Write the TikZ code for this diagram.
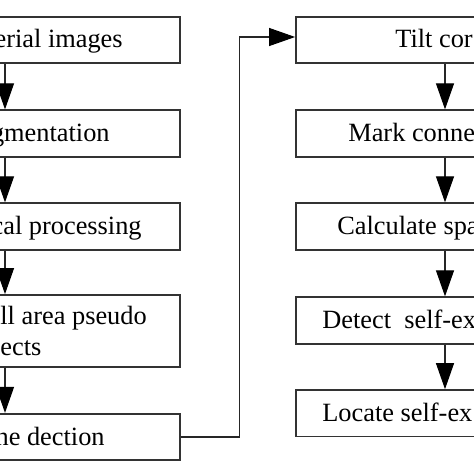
\documentclass[tikz,border=0pt]{standalone}
\usepackage{fontspec}
\setmainfont{Liberation Serif}
\usetikzlibrary{arrows.meta}

\begin{document}
\begin{tikzpicture}[x=0.2mm,y=-0.2mm,
  box/.style={draw=black!80, line width=1pt, minimum height=9.3mm},
  lbox/.style={box, minimum width=70mm},
  rbox/.style={box, minimum width=59.6mm},
  txt/.style={inner sep=0pt, font=\fontsize{15}{17.6}\selectfont},
  arr/.style={draw=black!85, line width=0.6pt, -{Triangle[length=5.2mm,width=3.6mm,fill=black,color=black]}}]

\useasboundingbox (0,0) rectangle (474,474);
\clip (0,0) rectangle (474,474);

% left column
\node[lbox] (aerial) at (5,40) {};
\node[lbox] (seg) at (5,133.5) {};
\node[lbox] (morph) at (5,226.5) {};
\node[lbox, minimum height=14.4mm] (small) at (5,331) {};
\node[lbox] (linedet) at (5,437) {};

\node[txt, anchor=base east] (aerialtxt) at (123,47) {erial images};
\node[txt, anchor=base east] (segtxt) at (110,141) {gmentation};
\node[txt, anchor=base east] (morphtxt) at (142,234) {cal processing};
\node[txt, anchor=west, align=left] (smalltxt) at (0,331) {ll area pseudo\\ects};
\node[txt, anchor=base east] (linedettxt) at (105,445) {ne dection};

% right column
\node[rbox] (tilt) at (445,40) {};
\node[rbox] (mark) at (445,133.5) {};
\node[rbox] (calc) at (445,226.5) {};
\node[rbox] (detect) at (445,320.5) {};
\node[rbox] (locate) at (445,413.3) {};

\node[txt, anchor=base west] (tilttxt) at (395,47) {Tilt cor};
\node[txt, anchor=base west] (marktxt) at (348,141) {Mark conne};
\node[txt, anchor=base west] (calctxt) at (337,234) {Calculate spa};
\node[txt, anchor=base west] (detecttxt) at (322,328) {Detect~~self-ex};
\node[txt, anchor=base west] (locatetxt) at (322,421) {Locate self-ex};

\draw[arr] (aerial) -- (seg);
\draw[arr] (seg) -- (morph);
\draw[arr] (morph) -- (small);
\draw[arr] (small) -- (linedet);

\draw[arr] (linedet.east) -- ++(58.5,0) |- ([yshift=0.6mm]tilt.west);

\draw[arr] (tilt) -- (mark);
\draw[arr] (mark) -- (calc);
\draw[arr] (calc) -- (detect);
\draw[arr] (detect) -- (locate);

\end{tikzpicture}
\end{document}
